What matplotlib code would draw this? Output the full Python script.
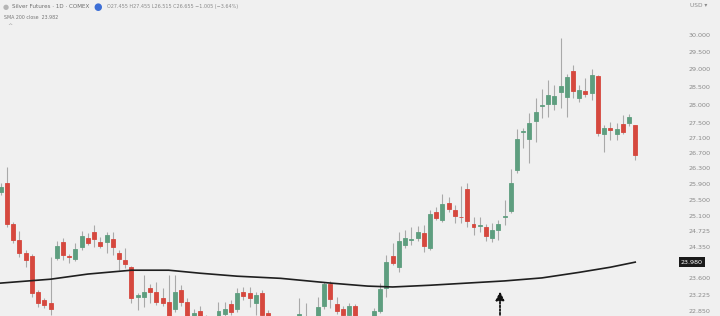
import numpy as np
import matplotlib
matplotlib.use("Agg")
import matplotlib.pyplot as plt
from matplotlib.ticker import FixedLocator, NullLocator

# daily candles, silver futures
opens = [25.70, 25.92, 24.89, 24.51, 24.20, 24.13, 23.28, 23.10, 23.03, 24.08,
         24.46, 24.12, 24.06, 24.34, 24.56, 24.70, 24.46, 24.46, 24.53, 24.20,
         24.03, 23.86, 23.17, 23.17, 23.37, 23.28, 23.14, 23.05, 22.89, 23.33,
         23.05, 22.65, 22.85, 22.69, 22.56, 22.69, 22.78, 23.01, 22.89, 23.28,
         23.26, 23.03, 23.26, 22.80, 22.69, 22.53, 22.62, 22.47, 22.65, 22.67,
         22.69, 22.69, 22.96, 23.47, 23.01, 22.89, 22.76, 22.96, 22.69, 22.51,
         22.65, 22.85, 23.37, 24.13, 23.86, 24.39, 24.52, 24.56, 24.68, 24.32,
         25.19, 24.99, 25.42, 25.24, 25.08, 25.77, 24.89, 24.85, 24.82, 24.56,
         24.75, 25.08, 25.22, 26.26, 27.27, 27.08, 27.56, 27.98, 28.03, 28.03,
         28.36, 28.22, 28.95, 28.20, 28.39, 28.33, 28.81, 27.21, 27.36, 27.21,
         27.48, 27.51, 27.455]
highs = [25.92, 26.34, 24.94, 24.73, 24.27, 24.18, 23.33, 23.14, 24.10, 24.49,
         24.56, 24.18, 24.44, 24.73, 24.68, 24.87, 24.58, 24.70, 24.70, 24.27,
         24.32, 23.89, 23.26, 23.68, 23.47, 23.51, 23.37, 23.68, 23.68, 23.44,
         23.14, 22.89, 22.96, 22.76, 22.74, 23.05, 23.05, 23.10, 23.37, 23.40,
         23.40, 23.28, 23.33, 22.87, 22.74, 22.69, 22.67, 22.67, 23.14, 23.03,
         22.74, 23.17, 23.51, 23.54, 23.17, 22.96, 23.03, 23.01, 22.71, 22.71,
         22.91, 23.49, 24.15, 24.44, 24.70, 24.75, 24.82, 24.85, 24.87, 25.24,
         25.32, 25.65, 25.57, 25.37, 25.85, 25.92, 25.07, 25.07, 24.89, 24.92,
         24.99, 25.49, 26.29, 27.35, 27.37, 27.78, 28.20, 28.45, 28.70, 28.56,
         29.91, 28.87, 29.13, 28.56, 28.76, 29.01, 28.84, 27.45, 27.53, 27.51,
         27.73, 27.75, 27.455]
lows = [25.62, 24.82, 24.44, 24.10, 23.86, 23.17, 22.94, 22.91, 22.76, 24.03,
        24.03, 23.96, 24.01, 24.27, 24.39, 24.34, 24.32, 24.20, 24.15, 23.79,
        23.84, 23.03, 22.87, 22.94, 23.03, 22.98, 22.96, 22.56, 22.82, 22.96,
        22.51, 22.56, 22.60, 22.42, 22.47, 22.65, 22.71, 22.76, 22.82, 23.10,
        22.94, 22.76, 22.69, 22.56, 22.42, 22.47, 22.38, 22.38, 22.60, 22.60,
        22.47, 22.65, 22.89, 22.91, 22.78, 22.69, 22.69, 22.65, 22.47, 22.42,
        22.60, 22.80, 23.17, 23.91, 23.75, 24.32, 24.39, 24.49, 24.22, 24.27,
        24.99, 24.94, 25.19, 24.92, 24.92, 24.82, 24.63, 24.70, 24.49, 24.46,
        24.51, 24.87, 25.17, 26.18, 26.84, 26.44, 27.00, 27.64, 27.67, 27.86,
        27.92, 27.67, 28.20, 28.08, 28.22, 28.14, 27.16, 26.73, 27.05, 27.05,
        27.21, 27.43, 26.515]
closes = [25.82, 24.89, 24.51, 24.20, 24.03, 23.26, 23.03, 22.98, 22.89, 24.37,
          24.15, 24.09, 24.30, 24.61, 24.44, 24.53, 24.37, 24.63, 24.34, 24.06,
          23.94, 23.14, 23.21, 23.28, 23.28, 23.05, 23.03, 22.65, 23.28, 23.05,
          22.60, 22.80, 22.69, 22.51, 22.69, 22.85, 22.89, 22.82, 23.26, 23.19,
          23.14, 23.21, 22.76, 22.65, 22.51, 22.65, 22.47, 22.60, 22.78, 22.74,
          22.53, 22.94, 23.47, 23.12, 22.85, 22.76, 22.96, 22.69, 22.53, 22.69,
          22.85, 23.35, 23.98, 23.96, 24.49, 24.56, 24.53, 24.70, 24.37, 25.14,
          25.04, 25.39, 25.27, 25.09, 25.07, 24.97, 24.82, 24.88, 24.61, 24.75,
          24.89, 25.10, 25.92, 27.08, 27.29, 27.51, 27.81, 28.01, 28.28, 28.25,
          28.53, 28.78, 28.39, 28.42, 28.31, 28.84, 27.24, 27.37, 27.32, 27.35,
          27.27, 27.67, 26.655]

# 200-day SMA, sampled along the line
sma_idx = [0, 8, 14, 21, 27, 32, 38, 45, 53, 59, 63, 69, 75, 81, 87, 93, 98, 102]
sma_vals = [23.49, 23.58, 23.70, 23.79, 23.79, 23.72, 23.65, 23.60, 23.49, 23.42,
            23.40, 23.44, 23.49, 23.54, 23.61, 23.74, 23.86, 23.98]

price_ticks = [30.0, 29.5, 29.0, 28.5, 28.0, 27.5, 27.1, 26.7, 26.3, 25.9,
               25.5, 25.1, 24.725, 24.35, 23.6, 23.225, 22.85]
last_sma = 23.98

bg = "#f0f0f0"
up_col = "#5e9e7f"
dn_col = "#d6483e"
wick_col = "#a9a9a9"
txt_col = "#8a8a8a"

o = np.array(opens)
h = np.array(highs)
l = np.array(lows)
c = np.array(closes)
x = np.arange(len(o))
up = c >= o
cols = np.where(up, up_col, dn_col)

fig = plt.figure(figsize=(7.2, 3.16), dpi=100, facecolor=bg)
ax = fig.add_axes([0, 0, 668 / 720, 1])
ax.set_facecolor(bg)
ax.set_yscale("log")

# wicks then bodies
ax.vlines(x, l, h, color=wick_col, lw=0.8, zorder=2)
body_lo = np.minimum(o, c)
body_h = np.abs(c - o)
ax.bar(x, body_h, bottom=body_lo, width=0.64, color=cols,
       edgecolor=cols, linewidth=0.6, zorder=3)

# SMA 200
ax.plot(sma_idx, sma_vals, color="#1f1f1f", lw=1.2, zorder=4)

ax.set_xlim(-0.13, 107.27)
ax.set_ylim(22.74, 31.05)

# arrow under the breakout
ax.annotate("", xy=(80.26, 23.36), xytext=(80.26, 22.55),
            arrowprops=dict(arrowstyle="-|>,head_length=0.5,head_width=0.25",
                            color="#111111", lw=1.3, linestyle=(0, (1, 1))),
            annotation_clip=False, zorder=5)

# price scale on the right
ax.yaxis.tick_right()
ax.yaxis.set_major_locator(FixedLocator(price_ticks))
ax.yaxis.set_minor_locator(NullLocator())
ax.set_yticklabels([f"{v:.3f}" for v in price_ticks])
ax.tick_params(axis="y", length=0, pad=15, labelsize=4.6, labelcolor=txt_col)
ax.set_xticks([])
for s in ax.spines.values():
    s.set_visible(False)

ax.text(1.0 + 13 / 668, last_sma, f"{last_sma:.3f}",
        transform=ax.get_yaxis_transform(),
        ha="left", va="center", fontsize=4.6, color="white",
        bbox=dict(boxstyle="square,pad=0.35", fc="#1a1a1a", ec="none"))

# header
fig.text(0.004, 0.978, "\u25CF", fontsize=5, color="#b5b5b5", va="center")
fig.text(0.016, 0.978, "Silver Futures \u00b7 1D \u00b7 COMEX", fontsize=4.1,
         color="#6e6e6e", va="center")
fig.text(0.130, 0.978, "\u25CF", fontsize=7, color="#3d6fd6", va="center")
fig.text(0.148, 0.978,
         "O27.455 H27.455 L26.515 C26.655 \u22121.005 (\u22123.64%)",
         fontsize=3.5, color=txt_col, va="center")
fig.text(0.006, 0.946, "SMA 200 close  23.982", fontsize=3.4,
         color="#777777", va="center")
fig.text(0.010, 0.918, "^", fontsize=4.5, color="#999999", va="center")
fig.text(0.958, 0.982, "USD \u25BE", fontsize=4.2, color=txt_col, va="center")

fig.savefig("out.png", dpi=100, facecolor=bg)
